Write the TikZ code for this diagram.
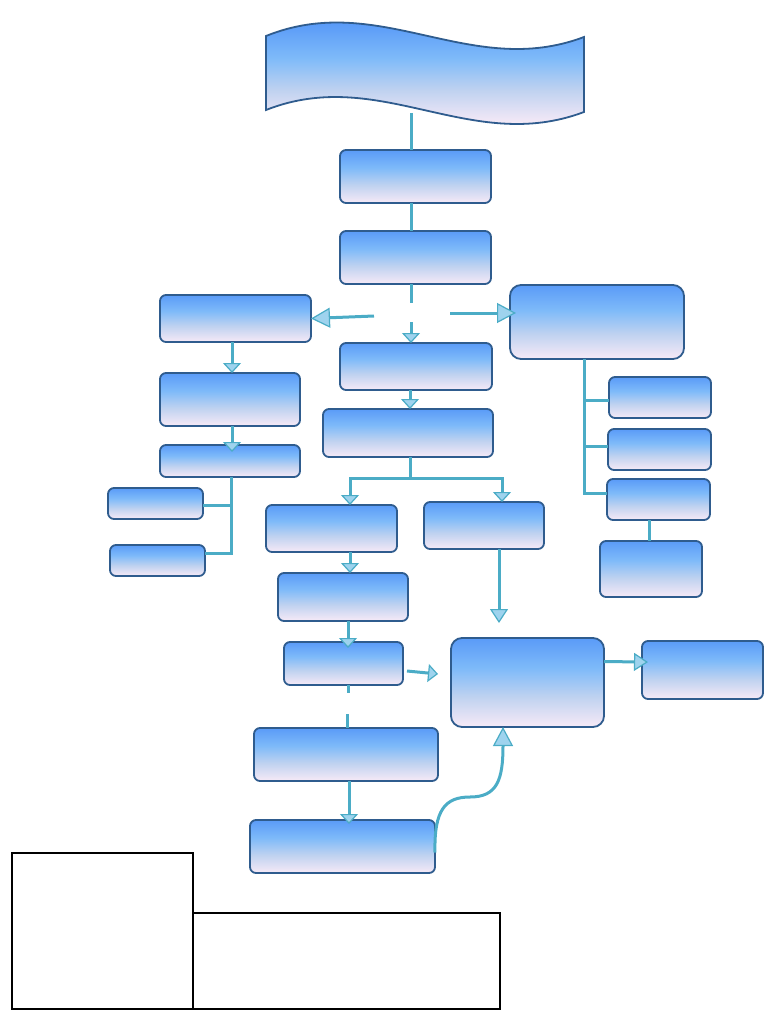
\documentclass[tikz,border=0pt]{standalone}
\usetikzlibrary{arrows.meta,calc}
\definecolor{bordc}{HTML}{2F5C8E}
\definecolor{linec}{HTML}{4BACC6}
\definecolor{headc}{HTML}{9ED3EE}
\definecolor{sA}{HTML}{5A9BF8}
\definecolor{sB}{HTML}{7EBAF9}
\definecolor{sC}{HTML}{BFD2F0}
\definecolor{sD}{HTML}{F7EAF7}
\pgfdeclareverticalshading{boxsh}{100bp}{color(0bp)=(sD); color(25bp)=(sD); color(42bp)=(sC); color(58bp)=(sB); color(75bp)=(sA); color(100bp)=(sA)}
\tikzset{
 fbox/.style={draw=bordc, line width=1.8pt, rounded corners=6pt, shade, shading=boxsh, inner sep=0pt, outer sep=0pt},
 cline/.style={draw=linec, line width=3pt},
 sarr/.style={cline, -{Triangle[length=10pt,width=18pt,fill=headc,line width=1.2pt]}},
 marr/.style={cline, -{Triangle[length=14pt,width=18pt,fill=headc,line width=1.2pt]}},
 barr/.style={cline, -{Triangle[length=19pt,width=20pt,fill=headc,line width=1.2pt]}},
 plainbox/.style={draw=black, line width=1.3pt, inner sep=0pt, outer sep=0pt}
}
\newcommand\mybox[6][fbox]{\node[#1, minimum width={(#5-#3)*1pt}, minimum height={(#6-#4)*1pt}] (#2) at ({(#3+#5)/2},{(#4+#6)/2}) {};}
\begin{document}
\begin{tikzpicture}[x=1pt,y=-1pt]
\useasboundingbox (0,0) rectangle (768,1024);
% banner
\begin{scope}
\clip (266,36) .. controls (380,-10) and (470,80) .. (584,37)
  -- (584,112) .. controls (470,155) and (380,65) .. (266,110) -- cycle;
\shade[shading=boxsh] (266,24) rectangle (584,124);
\end{scope}
\draw[draw=bordc, line width=1.8pt]
  (266,36) .. controls (380,-10) and (470,80) .. (584,37)
  -- (584,112) .. controls (470,155) and (380,65) .. (266,110) -- cycle;
% boxes
\mybox{B1}{340}{150}{491}{203}
\mybox{B2}{340}{231}{491}{284}
\mybox{L1}{160}{295}{311}{342}
\mybox[fbox,rounded corners=11pt]{R1}{510}{285}{684}{359}
\mybox{B3}{340}{343}{492}{390}
\mybox{L2}{160}{373}{300}{426}
\mybox{B4}{323}{409}{493}{457}
\mybox{L3}{160}{445}{300}{477}
\mybox{LL1}{108}{488}{203}{519}
\mybox{LL2}{110}{545}{205}{576}
\mybox{RB1}{609}{377}{711}{418}
\mybox{RB2}{608}{429}{711}{470}
\mybox{RB3}{607}{479}{710}{520}
\mybox{RB4}{600}{541}{702}{597}
\mybox{M1}{266}{505}{397}{552}
\mybox{M2}{424}{502}{544}{549}
\mybox{M3}{278}{573}{408}{621}
\mybox{M4}{284}{642}{403}{685}
\mybox[fbox,rounded corners=11pt]{BB}{451}{638}{604}{727}
\mybox{BR}{642}{641}{763}{699}
\mybox{M5}{254}{728}{438}{781}
\mybox{M6}{250}{820}{435}{873}
\mybox[plainbox]{T1}{12}{853}{193}{1009}
\mybox[plainbox]{T2}{193}{913}{500}{1009}
% x helpers
\foreach \xx in {411,232,231,584,649,410,350,502,499,348,347,349,503}{\coordinate (x\xx) at (\xx,0);}
% connectors
\coordinate (bb) at (411,113);
\draw[cline] (bb) -- (B1.north -| x411);
\draw[cline] (B1.south -| x411) -- (B2.north -| x411);
\coordinate (st1) at (411,303);
\draw[cline] (B2.south -| x411) -- (st1);
\coordinate (sp) at (411,322);
\draw[sarr] (sp) -- (B3.north -| x411);
\coordinate (spL) at (374,316);
\draw[barr] (spL) -- (L1.east);
\coordinate (spR) at (450,313);
\draw[barr, shorten >=-6pt] (spR) -- (R1.west |- spR);
\draw[sarr] (L1.south -| x232) -- (L2.north -| x232);
\draw[sarr, shorten >=-7pt] (L2.south -| x232) -- (L3.north -| x232);
\coordinate (lb2) at (231,553);
\draw[cline] (L3.south -| x231) |- (LL2.east |- lb2);
\coordinate (lb1) at (231,505);
\draw[cline] (lb1) -- (LL1.east |- lb1);
\coordinate (rb3) at (584,493);
\draw[cline] (R1.south -| x584) |- (RB3.west |- rb3);
\coordinate (rb1) at (584,400);
\draw[cline] (rb1) -- (RB1.west |- rb1);
\coordinate (rb2) at (584,446);
\draw[cline] (rb2) -- (RB2.west |- rb2);
\draw[cline] (RB3.south -| x649) -- (RB4.north -| x649);
\draw[sarr] (B3.south -| x410) -- (B4.north -| x410);
\coordinate (jn) at (410,478);
\draw[cline] (B4.south -| x410) -- (jn);
\draw[sarr] (jn) -| (M1.north -| x350);
\draw[sarr] (jn) -| (M2.north -| x502);
\draw[sarr] (M1.south -| x350) -- (M3.north -| x350);
\coordinate (m2t) at (499,623);
\draw[marr] (M2.south -| x499) -- (m2t);
\draw[sarr, shorten >=-6pt] (M3.south -| x348) -- (M4.north -| x348);
\coordinate (m4t) at (438,674);
\draw[sarr] ([xshift=4pt,yshift=-7.5pt]M4.east) -- (m4t);
\coordinate (m4d) at (348,693);
\draw[cline] (M4.south -| x348) -- (m4d);
\coordinate (m5u) at (347,714);
\draw[cline] (m5u) -- (M5.north -| x347);
\draw[marr, shorten >=-6pt] ([yshift=21pt]BB.east) -- ([yshift=8pt]BR.west);
\draw[sarr, shorten >=-4pt] (M5.south -| x349) -- (M6.north -| x349);
\draw[barr] ([yshift=-6pt]M6.east) .. controls (434,810) and (445,797) .. (470,797) .. controls (497,797) and (503,780) .. (BB.south -| x503);
\end{tikzpicture}
\end{document}
